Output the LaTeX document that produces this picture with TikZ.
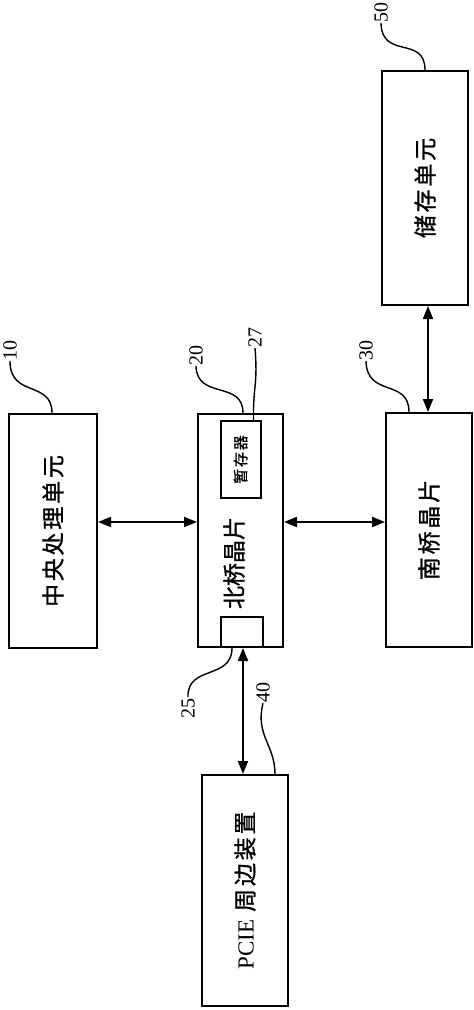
\documentclass[tikz,border=0pt]{standalone}
\usepackage{fontspec}
\usepackage{graphicx}
\setmainfont{Liberation Serif}
\newfontfamily\cjk[LetterSpace=12,FakeBold=1.2]{Noto Sans CJK SC}
\newfontfamily\cjktight[FakeBold=1.2]{Noto Sans CJK SC}
\usetikzlibrary{arrows.meta,positioning}
\tikzset{
  blk/.style={draw, line width=2pt, inner sep=0pt},
  tag/.style={inner sep=1pt, font=\fontsize{20}{20}\selectfont},
  big/.style={inner sep=0pt, font=\cjk\fontsize{23}{23}\selectfont},
  link/.style={line width=2pt, {Triangle[length=13pt,width=10pt]}-{Triangle[length=13pt,width=10pt]}},
  lead/.style={line width=1.4pt},
}
\newcommand{\up}[1]{\rotatebox{90}{#1}}

\begin{document}
\begin{tikzpicture}[x=1pt,y=-1pt]
    \useasboundingbox (0,0) rectangle (474,1010);

    % Blocks
    \node[blk, big, minimum width=88pt, minimum height=234pt] (cpu) at (53,531) {\up{中央处理单元}};
    \node[blk, minimum width=85pt, minimum height=233pt] (nb) at (240.5,530.5) {};
    \node[blk, big, minimum width=86pt, minimum height=234pt] (sb) at (429,530) {\up{南桥晶片}};
    \node[blk, big, minimum width=86pt, minimum height=234pt] (mem) at (425,188) {\up{储存单元}};
    \node[blk, big, minimum width=86pt, minimum height=231pt] (pcie) at (245,890.5)
        {\up{{\rmfamily\fontsize{23}{23}\selectfont PCIE} 周边装置}};

    % Inside the north bridge
    \node[blk, anchor=north, minimum width=40pt, minimum height=77pt,
          font=\cjk\fontsize{15}{15}\selectfont] (reg) at ([yshift=-7pt]nb.north) {\up{暂存器}};
    \node[blk, anchor=south, minimum width=42pt, minimum height=30pt] (port) at ([xshift=1.5pt]nb.south) {};
    \node[inner sep=0pt, font=\cjktight\fontsize{23}{23}\selectfont] (nbtxt) at (234,563) {\up{北桥晶片}};

    % Buses
    \draw[link] ([yshift=9pt]cpu.east) -- ([yshift=9pt]cpu.east -| nb.west);
    \draw[link] ([yshift=8.5pt]nb.east) -- ([yshift=8.5pt]nb.east -| sb.west);
    \draw[link] ([xshift=3pt]mem.south) -- ([xshift=3pt]mem.south |- sb.north);
    \draw[link] ([xshift=1pt]port.south) -- ([xshift=1pt]port.south |- pcie.north);

    % Reference numbers
    \node[tag] (l10) at (10,350) {\up{10}};
    \node[tag] (l20) at (196,355) {\up{20}};
    \node[tag] (l27) at (255,337) {\up{27}};
    \node[tag] (l30) at (366,350) {\up{30}};
    \node[tag] (l50) at (381,12) {\up{50}};
    \node[tag] (l25) at (188,708) {\up{25}};
    \node[tag] (l40) at (263,692) {\up{40}};

    % Leaders
    \draw[lead] (l10.south) .. controls (10,398) and (52,380) .. ([xshift=-1pt]cpu.north);
    \draw[lead] (l20.south) .. controls (197,400) and (243,380) .. ([xshift=2.5pt]nb.north);
    \draw[lead] (l27.south) .. controls (258,385) and (253,385) .. ([xshift=13pt]reg.north);
    \draw[lead] (l30.south) .. controls (367,398) and (409,378) .. ([xshift=-20pt]sb.north);
    \draw[lead] (l50.south) .. controls (382,60) and (425,35) .. (mem.north);
    \draw[lead] (l25.north) .. controls (187,665) and (232,680) .. ([xshift=-10pt]port.south);
    \draw[lead] (l40.south) .. controls (255,735) and (275,745) .. ([xshift=30pt]pcie.north);
\end{tikzpicture}
\end{document}
